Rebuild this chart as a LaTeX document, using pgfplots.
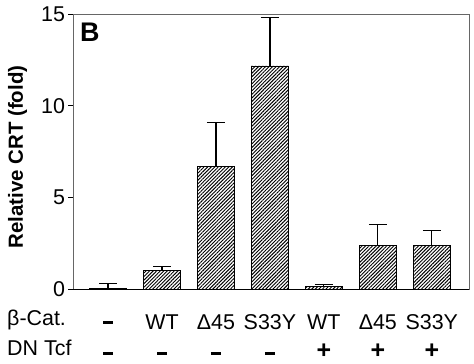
\documentclass[border=0pt]{standalone}
\usepackage{fontspec}
\setmainfont{Liberation Sans}
\usepackage{pgfplots}
\pgfplotsset{compat=1.18}
\usetikzlibrary{patterns.meta}
\newcommand{\mdash}{\rule[5.5bp]{10bp}{3bp}}
\newcommand{\mplus}{\raisebox{2bp}{\fontsize{25}{26}\selectfont\bfseries +}}
\begin{document}
\begin{tikzpicture}
\begin{axis}[
  scale only axis,
  width=396bp, height=275bp,
  xmin=-0.65, xmax=6.69,
  ymin=0, ymax=15,
  ytick={0,5,10,15},
  ytick pos=left,
  tick align=outside,
  major tick length=4.5bp,
  xtick={0,...,6},
  major x tick style={draw=none},
  xticklabels={\mdash,WT,Δ45,S33Y,WT,Δ45,S33Y},
  xticklabel style={anchor=base, yshift=-36bp},
  extra x ticks={0,...,6},
  extra x tick labels={\mdash,\mdash,\mdash,\mdash,\mplus,\mplus,\mplus},
  extra x tick style={major x tick style={draw=none}, xticklabel style={yshift=-31bp}},
  /pgf/number format/assume math mode=true,
  tick label style={font=\fontsize{21.5}{24}\selectfont},
  axis line style={black!60, line width=0.8bp},
  ytick style={black, line width=0.9bp},
  ylabel={\textbf{Relative CRT (fold)}},
  ylabel style={at={(axis description cs:-0.14,0.48)}, anchor=center, font=\fontsize{20.5}{24}\selectfont},
  clip=false,
]
\addplot[ybar, bar width=37bp, draw=black, line width=0.7bp,
  pattern={Lines[angle=45, distance=2.5bp, line width=0.95bp]}, pattern color=black,
  error bars/.cd, y dir=plus, y explicit,
  error bar style={black, line width=1.2bp},
  error mark options={rotate=90, mark size=9bp, line width=1.2bp, black}]
coordinates {
 (0,0.05) +- (0,0.25)
 (1,1.00) +- (0,0.22)
 (2,6.67) +- (0,2.40)
 (3,12.17) +- (0,2.63)
 (4,0.12) +- (0,0.12)
 (5,2.36) +- (0,1.15)
 (6,2.38) +- (0,0.80)
};
\draw[black, line width=1bp] (rel axis cs:0,0) -- (rel axis cs:1,0);
\node[anchor=base west, font=\fontsize{27}{30}\selectfont\bfseries, inner sep=0pt] at ([xshift=7bp, yshift=-28bp]rel axis cs:0,1) {B};
\node[anchor=base west, font=\fontsize{21.5}{24}\selectfont, inner sep=0pt] at ([xshift=-66bp, yshift=-36bp]rel axis cs:0,0) {β-Cat.};
\node[anchor=base west, font=\fontsize{21.5}{24}\selectfont, inner sep=0pt] at ([xshift=-66bp, yshift=-66bp]rel axis cs:0,0) {DN Tcf};
\end{axis}
\pgfresetboundingbox
\path[use as bounding box] (-73bp,-75bp) rectangle (401bp,289bp);
\end{tikzpicture}
\end{document}
